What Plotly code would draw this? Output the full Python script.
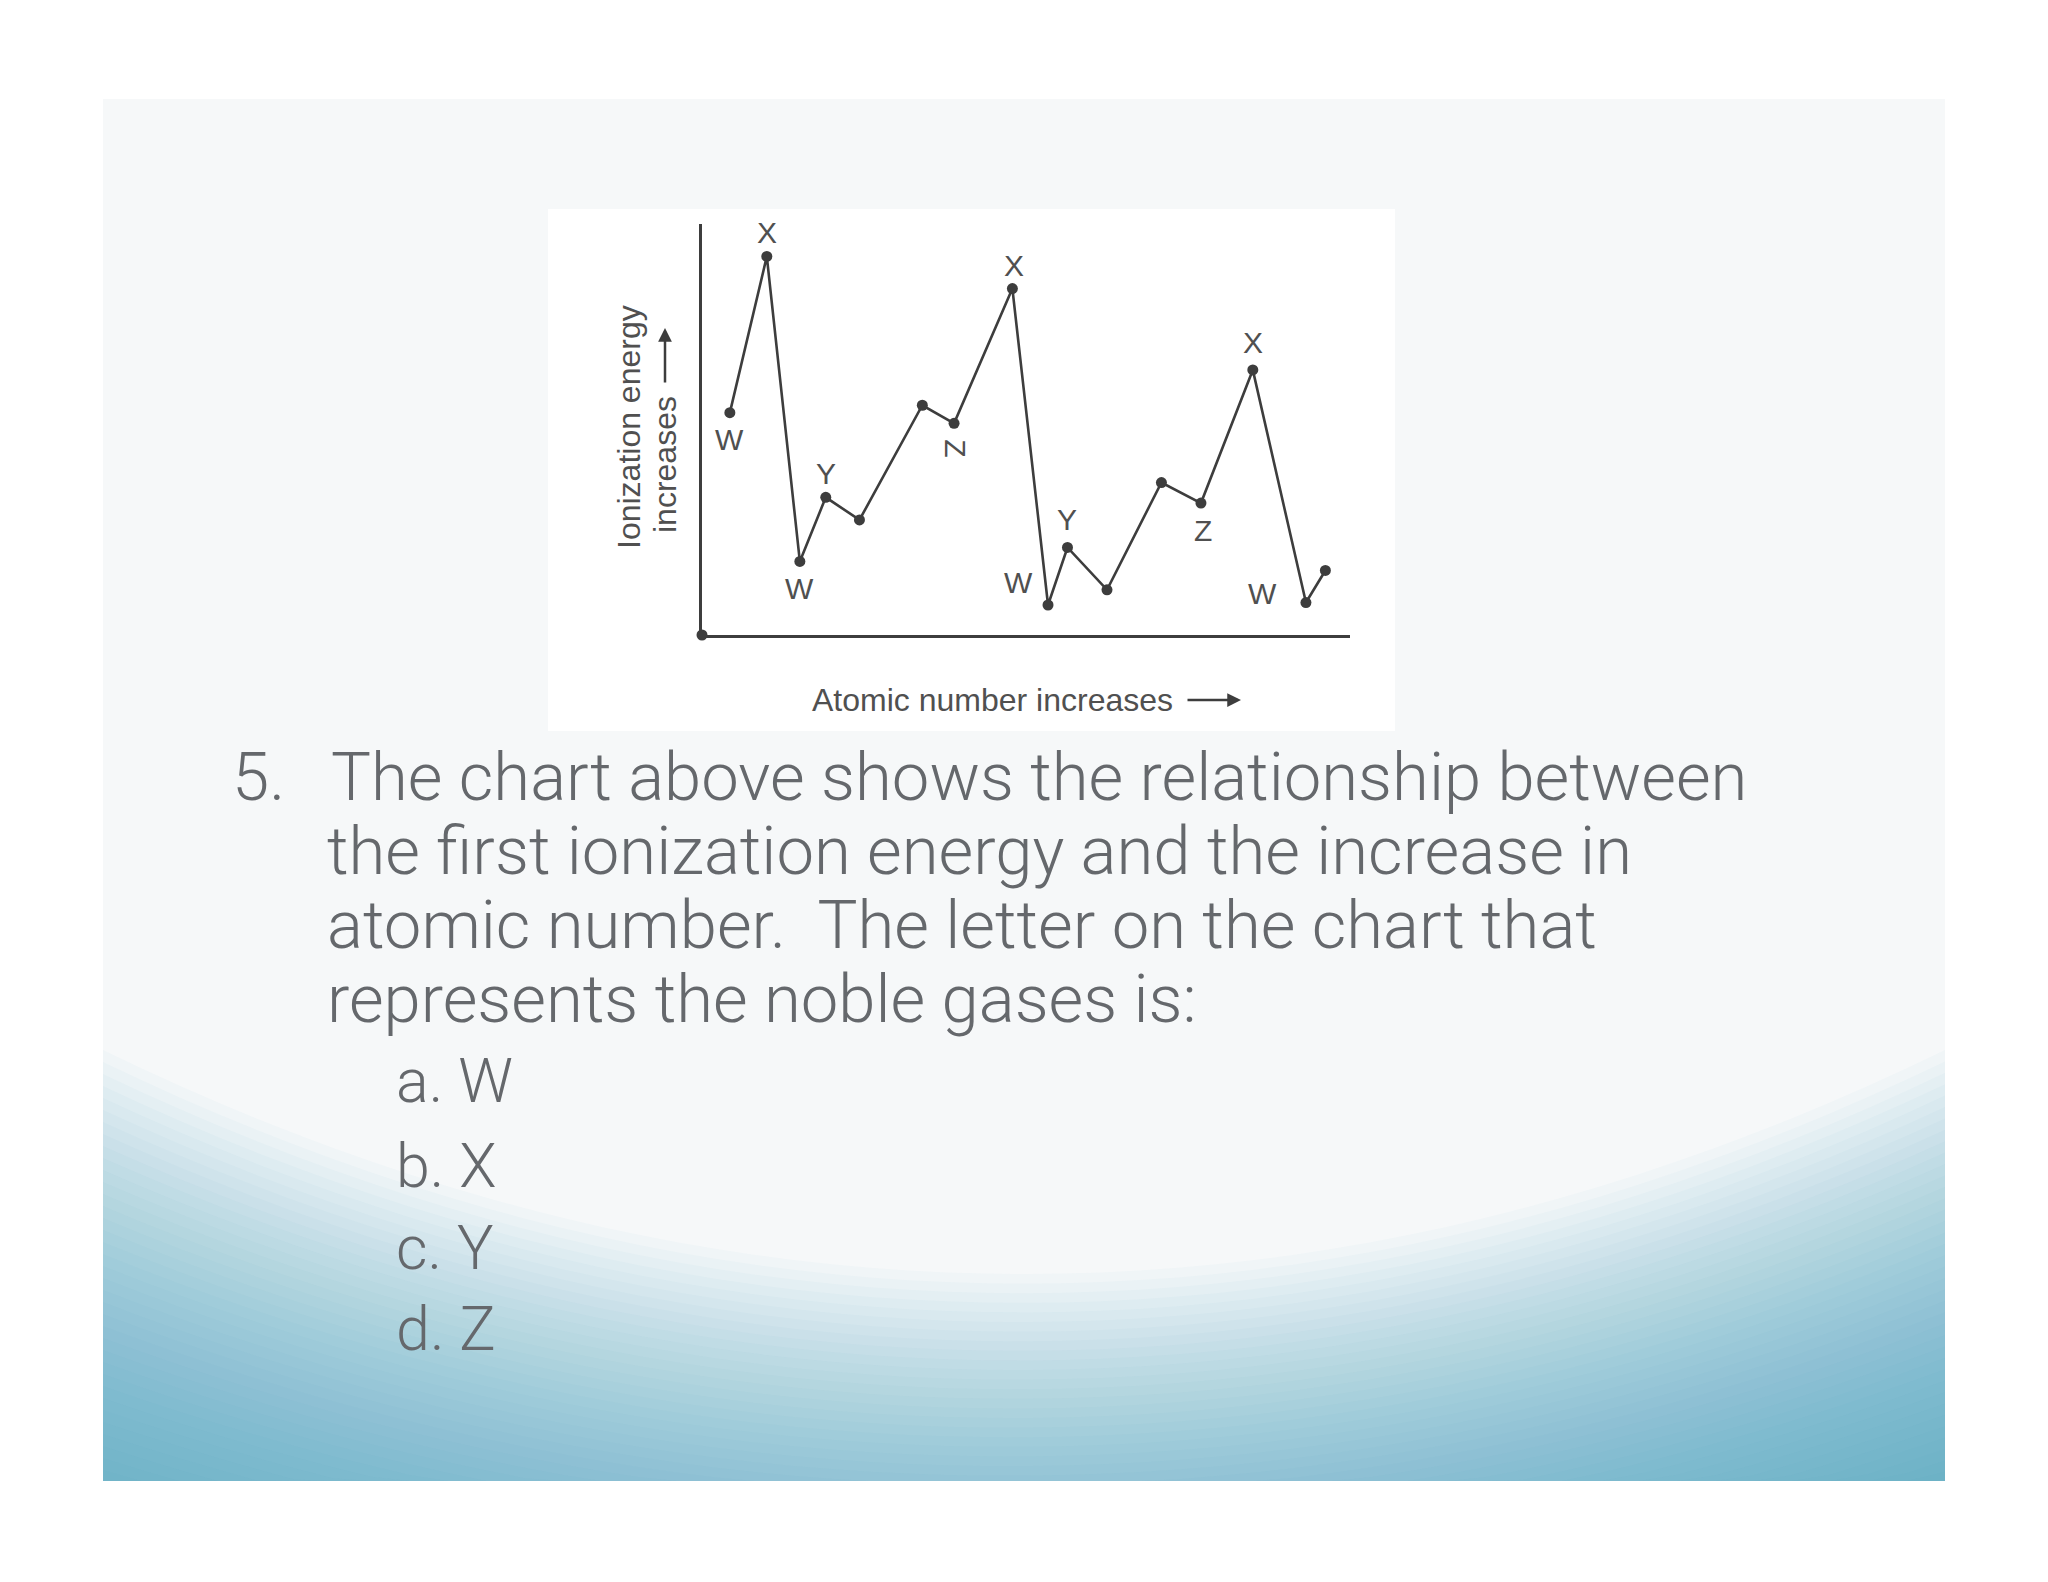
import plotly.graph_objects as go

# ---------------- data ----------------
atomic_pos = [4.3, 10.0, 15.1, 19.1, 24.3, 34.0, 38.9, 47.9, 53.4, 56.4, 62.5, 70.9, 77.0, 85.0, 93.2, 96.2]
ion_energy = [54.1, 92.1, 17.9, 33.5, 28.0, 55.9, 51.5, 84.3, 7.3, 21.3, 11.0, 37.1, 32.1, 64.5, 7.9, 15.7]
point_letters = ["W", "X", "W", "Y", "", "", "Z", "X", "W", "Y", "", "", "Z", "X", "W", ""]
origin_x = [0]
origin_y = [0]

y_title_lines = ["Ionization energy", "increases"]
x_title = "Atomic number increases"
question_number = "5."
question_lines = [
    "The chart above shows the relationship between",
    "the first ionization energy and the increase in",
    "atomic number.  The letter on the chart that",
    "represents the noble gases is:",
]
answer_lines = ["a. W", "b. X", "c. Y", "d. Z"]

# ---------------- styles / layout helpers ----------------
W, H = 2048, 1582
def px(x):
    return x / W
def py(y):
    return 1 - y / H
def P(x, y):
    return f"{px(x):.5f},{py(y):.5f}"

# label offsets (xshift, yshift, angle) per point
label_style = [(0, -27, 0), (0, 24, 0), (0, -27, 0), (0, 24, 0), (0, 0, 0), (0, 0, 0),
               (2, -25, 90), (2, 23, 0), (-30, 23, 0), (0, 28, 0), (0, 0, 0), (0, 0, 0),
               (2, -27, 0), (0, 27, 0), (-43, 9, 0), (0, 0, 0)]

INK = "#3d3d3d"
LABEL = "#505050"
TEXT = "#65686c"
CHART_FONT = "Liberation Sans, Arial, sans-serif"
SLIDE_FONT = "Roboto, sans-serif"

fig = go.Figure()
fig.add_trace(go.Scatter(
    x=atomic_pos, y=ion_energy, mode="lines+markers",
    line=dict(color=INK, width=2.6),
    marker=dict(color=INK, size=11),
    cliponaxis=False, hoverinfo="skip"))
fig.add_trace(go.Scatter(
    x=origin_x, y=origin_y, mode="markers",
    marker=dict(color=INK, size=11), cliponaxis=False, hoverinfo="skip"))

SL, SR, ST, SB = 103, 1945, 99, 1481
shapes = []
# slide background
shapes.append(dict(type="rect", xref="paper", yref="paper", x0=px(SL), x1=px(SR),
                   y0=py(SB), y1=py(ST), fillcolor="#f6f8f9", line=dict(width=0), layer="below"))
# soft bowl-shaped blue gradient (decoration)
NB = 40
for k in range(NB):
    yl = 1050 + 12.0 * k
    yr = 1050 + 11.4 * k
    mid = 1274 + 9.6 * k
    depth = mid - (yl + yr) / 2
    pts = []
    for j in range(49):
        x = SL + (SR - SL) * j / 48
        u = (x - 1024) / 921
        edge = yl + (yr - yl) * (x - SL) / (SR - SL)
        y = min(edge + depth * (1 - u * u), SB)
        pts.append(P(x, y))
    path = "M " + " L ".join(pts) + f" L {P(SR, SB)} L {P(SL, SB)} Z"
    shapes.append(dict(type="path", xref="paper", yref="paper", path=path,
                       fillcolor="rgba(55,150,180,0.03)", line=dict(width=0), layer="below"))
# chart white box
shapes.append(dict(type="rect", xref="paper", yref="paper", x0=px(548), x1=px(1395),
                   y0=py(731), y1=py(209), fillcolor="#ffffff", line=dict(width=0), layer="below"))

annotations = []
for xv, yv, lab, (dx, dy, ang) in zip(atomic_pos, ion_energy, point_letters, label_style):
    if not lab:
        continue
    annotations.append(dict(x=xv, y=yv, xref="x", yref="y", text=lab, showarrow=False,
                            xshift=dx, yshift=dy, textangle=ang,
                            xanchor="center", yanchor="middle",
                            font=dict(family=CHART_FONT, size=30, color=LABEL)))

# y-axis title (rotated)
annotations.append(dict(x=px(629), y=py(427), xref="paper", yref="paper", text=y_title_lines[0],
                        showarrow=False, textangle=-90, xanchor="center", yanchor="middle",
                        font=dict(family=CHART_FONT, size=32, color=LABEL)))
annotations.append(dict(x=px(665), y=py(465), xref="paper", yref="paper", text=y_title_lines[1],
                        showarrow=False, textangle=-90, xanchor="center", yanchor="middle",
                        font=dict(family=CHART_FONT, size=32, color=LABEL)))
annotations.append(dict(x=px(665), y=py(328), xref="paper", yref="paper", text="",
                        showarrow=True, ax=0, ay=56, arrowhead=2, arrowsize=1.1,
                        arrowwidth=2.5, arrowcolor=INK, standoff=0))
# x-axis title
annotations.append(dict(x=px(992), y=py(700), xref="paper", yref="paper", text=x_title,
                        showarrow=False, xanchor="center", yanchor="middle",
                        font=dict(family=CHART_FONT, size=32, color=LABEL)))
annotations.append(dict(x=px(1241), y=py(700), xref="paper", yref="paper", text="",
                        showarrow=True, ax=-55, ay=0, arrowhead=2, arrowsize=1.1,
                        arrowwidth=2.5, arrowcolor=INK, standoff=0))

# question text
annotations.append(dict(x=px(230), y=py(777), xref="paper", yref="paper", text=question_number,
                        showarrow=False, xanchor="left", yanchor="middle",
                        font=dict(family=SLIDE_FONT, size=67, color=TEXT, weight=300)))
q_x = [329, 325, 325, 325]
q_y = [777, 851, 925, 999]
for t, xx, yy in zip(question_lines, q_x, q_y):
    annotations.append(dict(x=px(xx), y=py(yy), xref="paper", yref="paper", text=t,
                            showarrow=False, xanchor="left", yanchor="middle",
                            font=dict(family=SLIDE_FONT, size=67, color=TEXT, weight=300)))
a_y = [1081, 1166, 1248, 1329]
for t, yy in zip(answer_lines, a_y):
    annotations.append(dict(x=px(394), y=py(yy), xref="paper", yref="paper", text=t,
                            showarrow=False, xanchor="left", yanchor="middle",
                            font=dict(family=SLIDE_FONT, size=61, color=TEXT, weight=300)))

axis_common = dict(showgrid=False, zeroline=False, showticklabels=False, ticks="",
                   showline=True, linecolor=INK, linewidth=3, fixedrange=True)
fig.update_layout(
    width=W, height=H, margin=dict(l=0, r=0, t=0, b=0, pad=0),
    paper_bgcolor="#ffffff", plot_bgcolor="rgba(0,0,0,0)", showlegend=False,
    xaxis=dict(domain=[px(702), px(1350)], range=[0, 100], **axis_common),
    yaxis=dict(domain=[py(635), py(224)], range=[0, 100], **axis_common),
    shapes=shapes, annotations=annotations,
)

fig.write_html("out.html", config={"displayModeBar": False},
               post_script="document.body.style.margin='0';document.body.style.overflow='hidden';")
